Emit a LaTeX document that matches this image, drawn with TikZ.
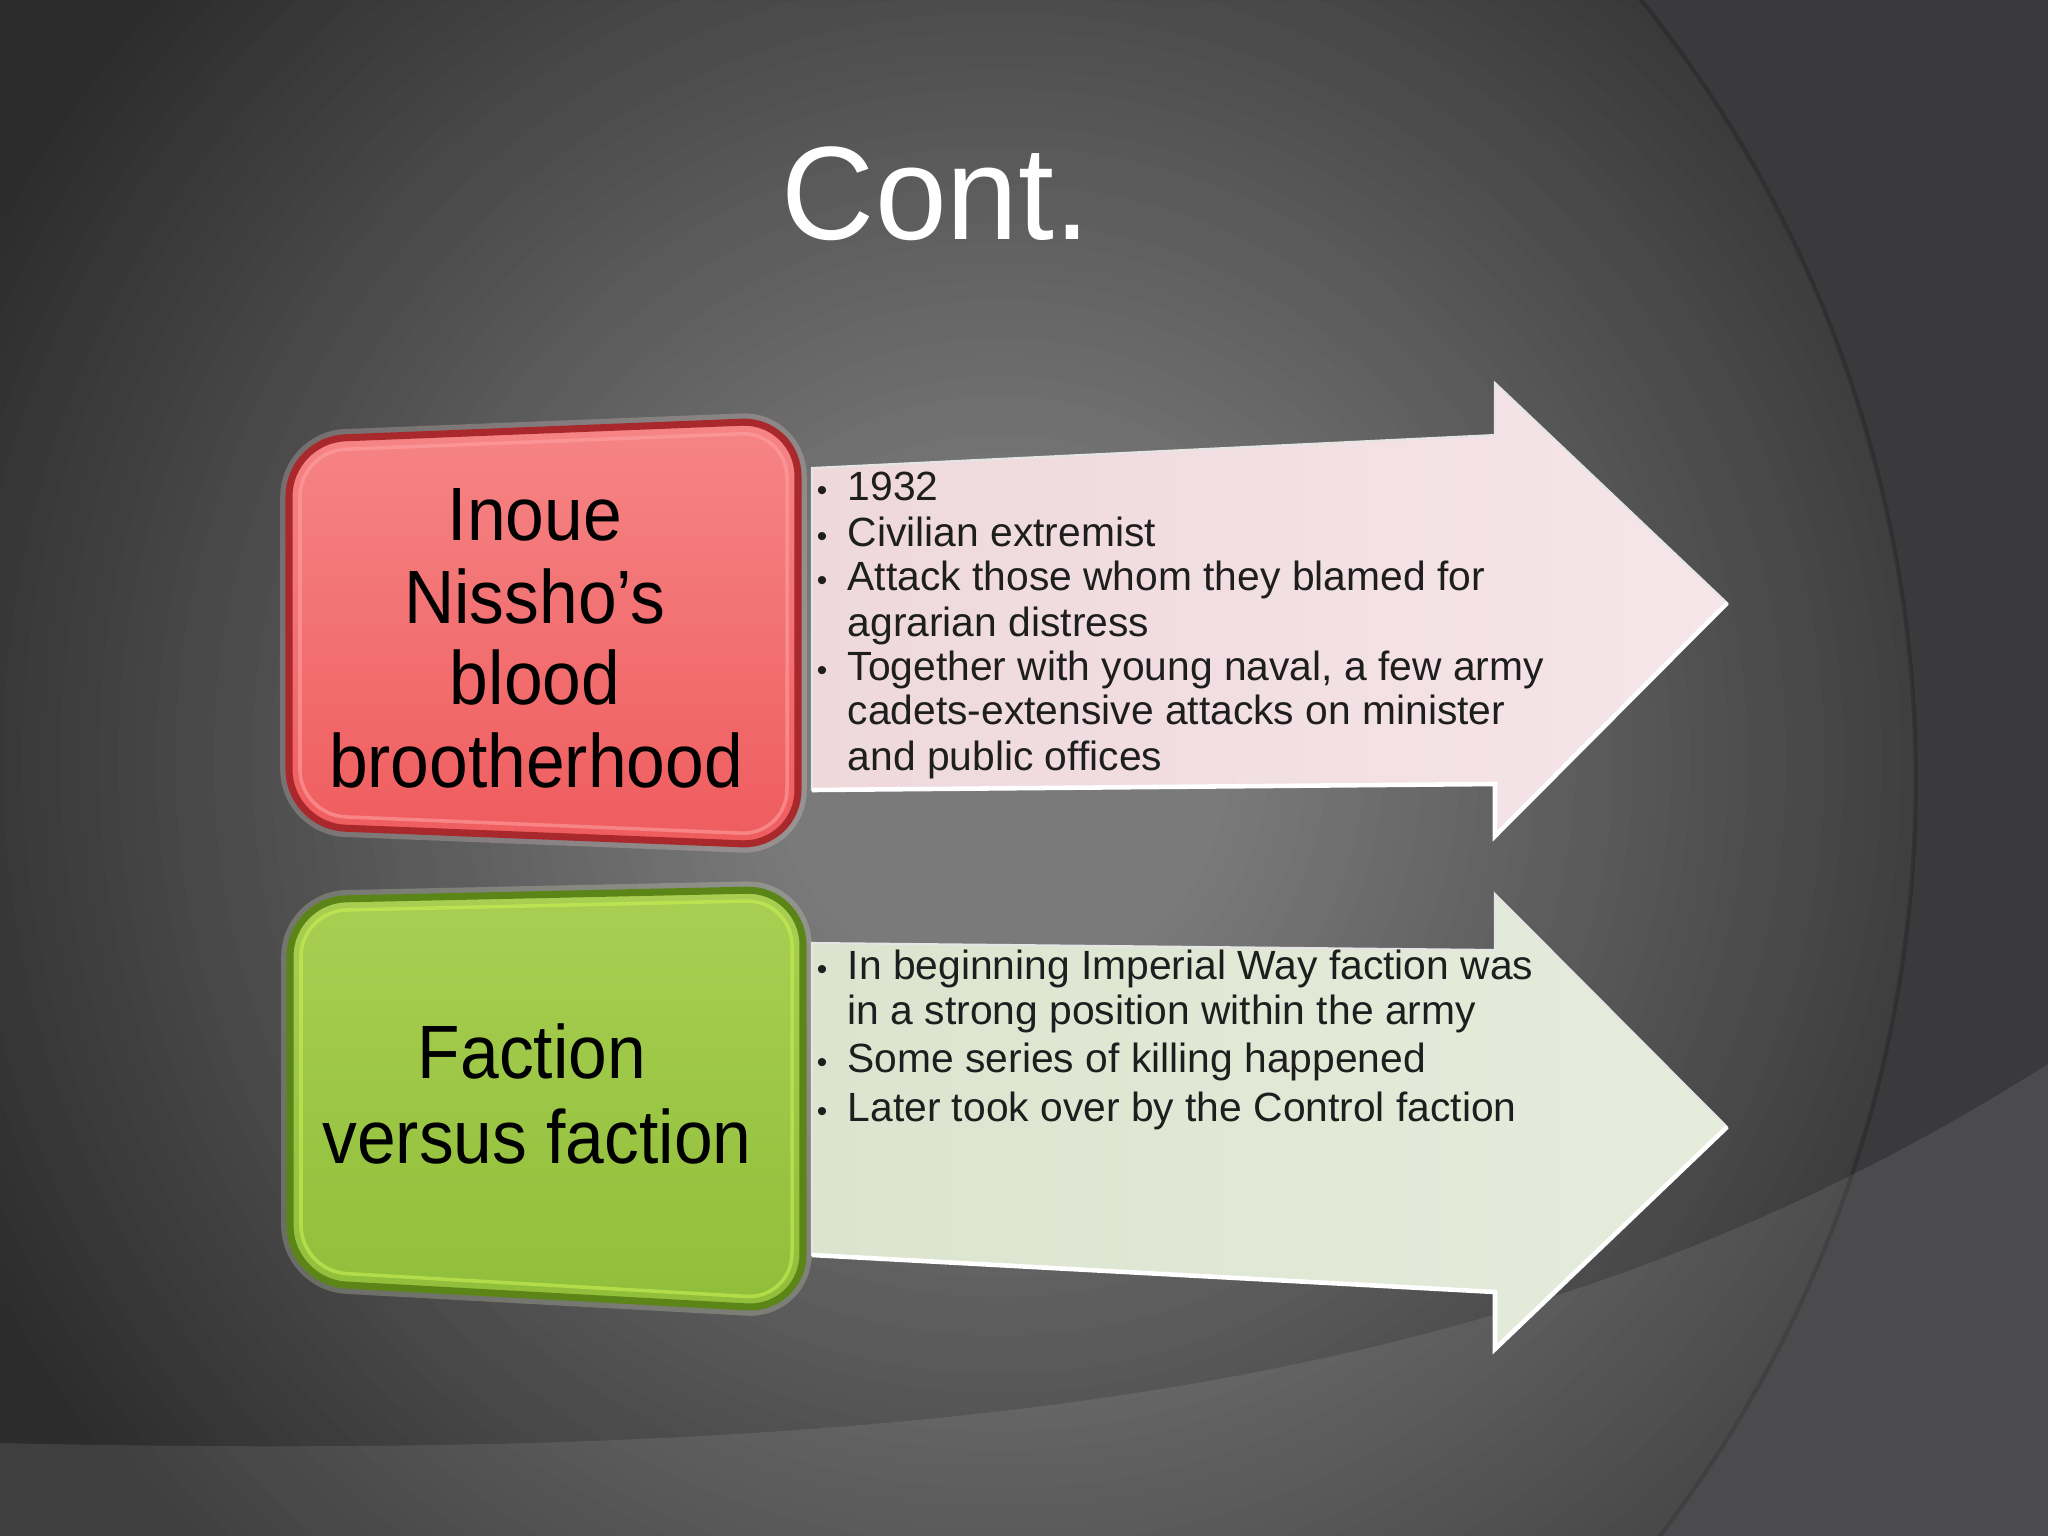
\documentclass[tikz,border=0pt]{standalone}
\usepackage{fontspec}
\setmainfont{Liberation Sans}
\newfontfamily\titlefont[FakeStretch=0.97]{Liberation Sans}
\newfontfamily\boxfont[FakeStretch=0.92]{Liberation Sans}
\newfontfamily\arrfont{Liberation Sans}
\definecolor{bgC}{HTML}{7A7A7A}
\definecolor{bgE}{HTML}{2C2C2C}
\definecolor{outerdark}{HTML}{3A3A3C}
\definecolor{redtop}{HTML}{F68586}
\definecolor{redbot}{HTML}{EF5C5E}
\definecolor{redrim}{HTML}{A8282C}
\definecolor{redhalo}{HTML}{F2DADA}
\definecolor{redin}{HTML}{FFA0A0}
\definecolor{grtop}{HTML}{A9CF52}
\definecolor{grbot}{HTML}{90BE3A}
\definecolor{grrim}{HTML}{5C8518}
\definecolor{grhalo}{HTML}{E2ECD0}
\definecolor{grin}{HTML}{C8F052}
\definecolor{pinkL}{HTML}{EED8DC}
\definecolor{pinkR}{HTML}{F6E6E9}
\definecolor{paleL}{HTML}{DCE4CF}
\definecolor{paleR}{HTML}{E6ECDC}
\definecolor{txtc}{HTML}{1E1E1E}
\newcommand{\bul}{\llap{{\fontsize{8.5pt}{8.5pt}\selectfont\textbullet}\hspace{5.8pt}}}
\tikzset{
  arrtxt/.style={anchor=base west, inner sep=0pt, text height=6pt, text depth=1pt, text=txtc, font=\arrfont\fontsize{11.6pt}{13pt}\selectfont},
  boxtxt/.style={anchor=base, inner sep=0pt, text height=15.5pt, text depth=4pt, text=black, font=\boxfont\fontsize{21.5pt}{23pt}\selectfont},
  halo/.style={line width=5pt, opacity=0.25},
  rim/.style={line width=2pt},
  inrim/.style={line width=1pt, opacity=0.6},
  arrowshape/.style={draw=white!80!gray, line width=0.6pt}
}
\begin{document}
\begin{tikzpicture}[x=0.01cm,y=-0.01cm]
\useasboundingbox (0,0) rectangle (2048,1536);
% background
\fill[bgE] (0,0) rectangle (2048,1536);
\begin{scope}
  \clip (0,0) rectangle (2048,1536);
  \foreach \i in {0,...,59}{
    \pgfmathsetmacro{\f}{1-\i/60}
    \pgfmathsetmacro{\p}{min(100,max(0,100*(1-\f)/0.8))}
    \fill[bgC!\p!bgE] (1000,760) circle[radius=\f*11.5cm];
  }
  \fill[outerdark, even odd rule] (0,0) rectangle (2048,1536) (671,780) circle[radius=12.44cm];
  \draw[black, opacity=0.18, line width=1.2pt] (671,780) circle[radius=12.44cm];
  \fill[white, opacity=0.09] (0,1443) .. controls (1000,1465) and (1550,1380) .. (2048,1064) -- (2048,1536) -- (0,1536) -- cycle;
\end{scope}
% title
\node[anchor=base, text=white, inner sep=0pt, font=\titlefont\fontsize{37.8pt}{40pt}\selectfont] (title) at (936,239) {Cont.};
% arrow 1
\shade[left color=pinkL, right color=pinkR, arrowshape] (812,468) -- (1495,435) -- (1495,383) -- (1727,603) -- (1495,836) -- (1495,784) -- (812,790) -- cycle;
\draw[white, line width=1.3pt] (1727,603) -- (1495,836) -- (1495,784) -- (812,790);
% arrow 2
\shade[left color=paleL, right color=paleR, arrowshape] (812,943) -- (1495,950) -- (1495,894) -- (1727,1127) -- (1495,1349) -- (1495,1292) -- (812,1255) -- cycle;
\draw[white, line width=1.3pt] (1727,1127) -- (1495,1349) -- (1495,1292) -- (812,1255);
% red box
\draw[redhalo, halo, rounded corners=16pt] (289,440) -- (798,420) -- (798,846) -- (289,826) -- cycle;
\shade[top color=redtop, bottom color=redbot, draw=redrim, rim, rounded corners=16pt] (289,440) -- (798,420) -- (798,846) -- (289,826) -- cycle;
\draw[redin, inrim, rounded corners=13pt] (300,451) -- (787,432) -- (787,835) -- (300,815) -- cycle;
% green box
\draw[grhalo, halo, rounded corners=16pt] (290,900) -- (803,889) -- (803,1310) -- (290,1282) -- cycle;
\shade[top color=grtop, bottom color=grbot, draw=grrim, rim, rounded corners=16pt] (290,900) -- (803,889) -- (803,1310) -- (290,1282) -- cycle;
\draw[grin, inrim, rounded corners=13pt] (301,911) -- (792,900) -- (792,1299) -- (301,1271) -- cycle;
% box texts
\node[boxtxt] (r1) at (535,540) {Inoue};
\node[boxtxt] (r2) at (535,623) {Nissho’s};
\node[boxtxt] (r3) at (535,704) {blood};
\node[boxtxt] (r4) at (536,787) {brootherhood};
\node[boxtxt] (g1) at (532,1078) {Faction};
\node[boxtxt] (g2) at (537,1163) {versus faction};
% arrow 1 texts
\node[arrtxt] (a1) at (847,500) {\bul 1932};
\node[arrtxt] (a2) at (847,546) {\bul Civilian extremist};
\node[arrtxt] (a3) at (847,590) {\bul Attack those whom they blamed for};
\node[arrtxt] (a4) at (847,636) {agrarian distress};
\node[arrtxt] (a5) at (847,680) {\bul Together with young naval, a few army};
\node[arrtxt] (a6) at (847,724) {cadets-extensive attacks on minister};
\node[arrtxt] (a7) at (847,770) {and public offices};
% arrow 2 texts
\node[arrtxt] (b1) at (847,979) {\bul In beginning Imperial Way faction was};
\node[arrtxt] (b2) at (847,1024) {in a strong position within the army};
\node[arrtxt] (b3) at (847,1072) {\bul Some series of killing happened};
\node[arrtxt] (b4) at (847,1121) {\bul Later took over by the Control faction};
\end{tikzpicture}
\end{document}
